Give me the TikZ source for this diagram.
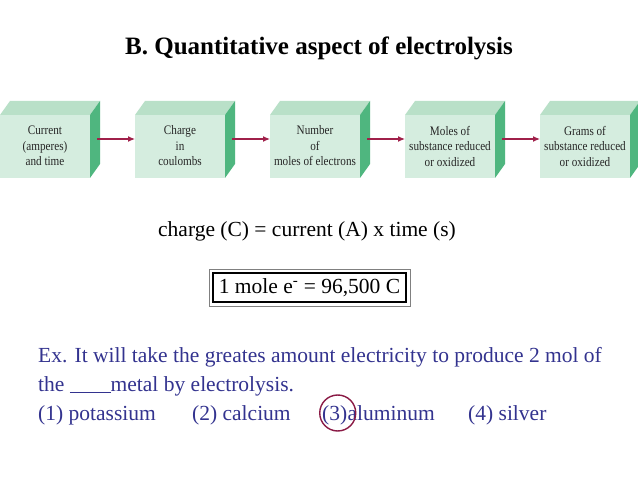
\documentclass[tikz,border=0pt]{standalone}
\usepackage{fontspec}
\setmainfont{Liberation Serif}
\newfontfamily\narrowfont[FakeStretch=0.86]{Liberation Serif}
\usetikzlibrary{arrows.meta}
\definecolor{front}{HTML}{D5EDDF}
\definecolor{topc}{HTML}{B9E0C8}
\definecolor{side}{HTML}{4FB67F}
\definecolor{arr}{HTML}{A0204A}
\definecolor{txtblue}{HTML}{33338F}
\definecolor{circ}{HTML}{8A1A45}
\tikzset{
  lbl/.style={font=\narrowfont\fontsize{13}{15.5}\selectfont, align=center, text=black!85},
  flow/.style={draw=arr, line width=1.2pt, -{Latex[length=7pt,width=6pt]}},
  ex/.style={font=\fontsize{21.5}{24}\selectfont, text=txtblue, anchor=west, inner xsep=0pt}
}
\newcommand{\blockbox}[3]{%
  \fill[topc] (#1,115) -- (#1+10,101) -- (#1+100,101) -- (#1+90,115) -- cycle;
  \fill[side] (#1+90,115) -- (#1+100,101) -- (#1+100,164) -- (#1+90,178) -- cycle;
  \fill[front] (#1,115) rectangle (#1+90,178);
  \node[lbl] (#2) at (#1+45,146) {#3};
  \coordinate (#2L) at (#1,139);
  \coordinate (#2R) at (#1+97,139);
}
\begin{document}
\begin{tikzpicture}[x=1pt,y=-1pt]
\useasboundingbox[fill=white] (0,0) rectangle (638,478);
\node[font=\fontsize{25}{28}\selectfont\bfseries] (title) at (319,48) {B. Quantitative aspect of electrolysis};
\blockbox{0}{b1}{Current\\(amperes)\\and time}
\blockbox{135}{b2}{Charge\\in\\coulombs}
\blockbox{270}{b3}{Number\\of\\moles of electrons}
\blockbox{405}{b4}{Moles of\\substance reduced\\or oxidized}
\blockbox{540}{b5}{Grams of\\substance reduced\\or oxidized}
\draw[flow] (b1R) -- (b2L);
\draw[flow] (b2R) -- (b3L);
\draw[flow] (b3R) -- (b4L);
\draw[flow] (b4R) -- (b5L);
\node[font=\fontsize{21.5}{24}\selectfont] (eq) at (307,231) {charge (C) = current (A) x time (s)};
\node[draw=gray, line width=0.8pt, minimum width=201pt, minimum height=37pt] (mole) at (309.5,287.5) {};
\node[draw, line width=1.8pt, minimum width=193pt, minimum height=29pt, font=\fontsize{21.5}{24}\selectfont] (moletxt) at (309.5,287.5) {1 mole e\textsuperscript{-} = 96,500 C};
\node[ex] (l1) at (38,357) {Ex. It will take the greates amount electricity to produce 2 mol of};
\node[ex] (l2) at (38,386) {the \underline{\hspace{1.9em}}metal by electrolysis.};
\node[ex] (o1) at (38,415) {(1) potassium};
\node[ex] (o2) at (192,415) {(2) calcium};
\node[ex] (o3n) at (322,415) {(3)};
\node[ex, anchor=base west] (o3) at (o3n.base east) {aluminum};
\node[ex] (o4) at (468,415) {(4) silver};
\node[draw=circ, line width=1.4pt, circle, minimum size=36pt] (c3) at ([xshift=3pt,yshift=2pt]o3n.center) {};
\end{tikzpicture}
\end{document}
